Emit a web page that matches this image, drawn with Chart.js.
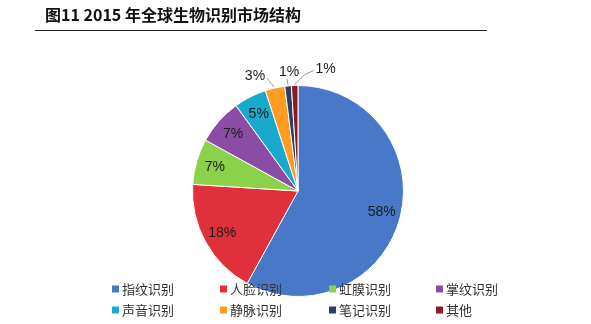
<!DOCTYPE html>
<html>
<head>
<meta charset="utf-8">
<script src="https://cdn.jsdelivr.net/npm/chart.js@4"></script>
<style>
  html, body { margin: 0; padding: 0; background: #fff; }
  #wrap { position: relative; width: 591px; height: 324px; }
  #title {
    position: absolute; left: 45px; top: 4px;
    font: bold 16px "Noto Sans CJK SC", sans-serif; color: #111;
    line-height: 20px; white-space: nowrap;
  }
  #rule { position: absolute; left: 35px; top: 30px; width: 452px; height: 1px; background: #222; }
  #c { position: absolute; left: 0; top: 0; }
</style>
</head>
<body>
<div id="wrap">
  <canvas id="c" width="591" height="324"></canvas>
  <div id="title">图11 2015 年全球生物识别市场结构</div>
  <div id="rule"></div>
</div>
<script>
const categorias = ['指纹识别', '人脸识别', '虹膜识别', '掌纹识别', '声音识别', '静脉识别', '笔记识别', '其他'];
const valores = [58, 18, 7, 7, 5, 3, 1, 1];
const cores = ['#4a78c8', '#e0303b', '#8cd14a', '#8b4ca5', '#19a9cc', '#ff9a22', '#2b3e63', '#8c1c1e'];

// legenda por cima da pizza, como no original
const legenda = {
    id: 'legenda',
    afterDatasetsDraw(chart) {
        const ctx = chart.ctx;
        const colX = [112, 220, 329, 436];
        const rowY = [289, 310];
        ctx.save();
        ctx.font = '13px "Noto Sans CJK SC", sans-serif';
        ctx.textBaseline = 'middle';
        categorias.forEach((nome, i) => {
            const x = colX[i % 4];
            const y = rowY[Math.floor(i / 4)];
            ctx.fillStyle = cores[i];
            ctx.fillRect(x, y - 3.5, 7, 7);
            ctx.fillStyle = '#333';
            ctx.fillText(nome, x + 10, y + 0.5);
        });
        ctx.restore();
    }
};

const rotulos = {
    id: 'rotulos',
    afterDatasetsDraw(chart) {
        const ctx = chart.ctx;
        const arcs = chart.getDatasetMeta(0).data;
        ctx.save();
        ctx.font = '14px "Liberation Sans", Arial, sans-serif';
        ctx.textAlign = 'center';
        ctx.textBaseline = 'middle';
        arcs.forEach((arc, i) => {
            const mid = (arc.startAngle + arc.endAngle) / 2;
            const texto = valores[i] + '%';
            if (i < 5) {
                const r = arc.outerRadius * 0.82;
                ctx.fillStyle = '#1a1a1a';
                ctx.fillText(texto, arc.x + Math.cos(mid) * r, arc.y + Math.sin(mid) * r);
            } else {
                const ex = arc.x + Math.cos(mid) * arc.outerRadius;
                const ey = arc.y + Math.sin(mid) * arc.outerRadius;
                let lx, ly, pts;
                if (i === 5) {
                    lx = ex - 20; ly = ey - 12;
                    pts = [[ex - 1, ey - 1], [lx + 12, ly + 2]];
                } else if (i === 6) {
                    lx = ex + 1; ly = ey - 14;
                    pts = [[ex, ey - 1], [ex - 1, ly + 7]];
                } else {
                    lx = ex + 31; ly = ey - 16;
                    pts = [[ex, ey - 1], [ex + 10, ey - 11], [lx - 12, ly + 1]];
                }
                ctx.strokeStyle = '#999';
                ctx.lineWidth = 1;
                ctx.beginPath();
                pts.forEach((p, k) => k ? ctx.lineTo(p[0], p[1]) : ctx.moveTo(p[0], p[1]));
                ctx.stroke();
                ctx.fillStyle = '#1a1a1a';
                ctx.fillText(texto, lx, ly);
            }
        });
        ctx.restore();
    }
};

new Chart(document.getElementById('c').getContext('2d'), {
    type: 'pie',
    data: {
        labels: categorias,
        datasets: [{
            data: valores,
            backgroundColor: cores,
            borderColor: '#ffffff',
            borderWidth: 1
        }]
    },
    options: {
        responsive: false,
        animation: false,
        layout: { padding: { top: 85, bottom: 27, left: 100, right: 95 } },
        plugins: {
            legend: { display: false },
            tooltip: { enabled: false }
        }
    },
    plugins: [legenda, rotulos]
});
</script>
</body>
</html>
